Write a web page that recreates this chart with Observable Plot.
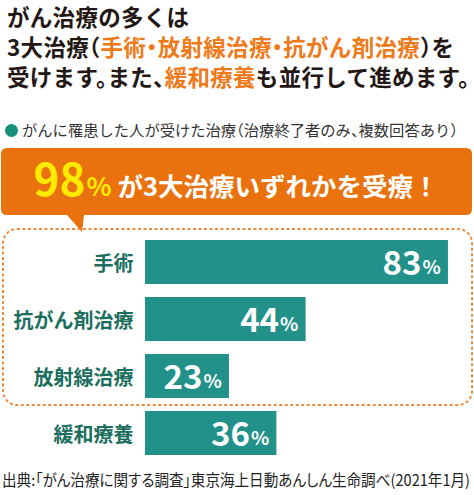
<!DOCTYPE html>
<html><head><meta charset="utf-8">
<script src="https://cdn.jsdelivr.net/npm/d3@7"></script>
<script src="https://cdn.jsdelivr.net/npm/@observablehq/plot@0.6"></script>
<style>
body{margin:0;background:#fff;}
#wrap{position:relative;width:474px;height:495px;overflow:hidden;font-family:"Noto Sans CJK JP",sans-serif;}
#title{position:absolute;left:7px;top:1px;font-size:22.5px;letter-spacing:0.3px;line-height:30px;font-weight:700;color:#231815;white-space:nowrap;font-feature-settings:"halt";}
#title .hl{color:#ee7a1a;}
#sub{position:absolute;left:5px;top:119px;font-size:15.3px;line-height:20px;color:#333;white-space:nowrap;font-feature-settings:"halt";}
#sub .dot{display:inline-block;width:13px;height:13px;border-radius:50%;background:#17907a;vertical-align:-1px;margin-right:4px;}
#deco{position:absolute;left:0;top:0;}
#chart{position:absolute;left:0;top:229px;}
#foot{position:absolute;left:2px;top:468px;font-size:15.5px;line-height:22px;color:#222;white-space:nowrap;font-feature-settings:"palt";transform-origin:0 0;}
</style></head>
<body>
<div id="wrap">
<svg id="deco" width="474" height="495">
  <path d="M7,148 H466 Q472,148 472,154 V209 Q472,215 466,215 H84 L82,232 L67,215 H7 Q1,215 1,209 V154 Q1,148 7,148 Z" fill="#e9720e"/>
  <rect x="3" y="229" width="469" height="176" rx="14" ry="14" fill="none" stroke="#f08a3c" stroke-width="2" stroke-dasharray="3 2.5"/>
  <text x="236" y="196" text-anchor="middle" font-family="Noto Sans CJK JP" font-weight="700"><tspan fill="#ffea00" font-size="44">98</tspan><tspan fill="#ffea00" font-size="26" dx="1">%</tspan><tspan fill="#fff" font-size="25.5" dx="6">が3大治療いずれかを受療！</tspan></text>
</svg>
<div id="title">がん治療の多くは<br>3大治療（<span class="hl">手術・放射線治療・抗がん剤治療</span>）を<br>受けます。また、<span class="hl">緩和療養</span>も並行して進めます。</div>
<div id="sub"><span class="dot"></span>がんに罹患した人が受けた治療（治療終了者のみ、複数回答あり）</div>
<div id="chart"></div>
<div id="foot">出典:「がん治療に関する調査」東京海上日動あんしん生命調べ(2021年1月)</div>
</div>
<script>
const categories = ["手術", "抗がん剤治療", "放射線治療", "緩和療養"];
const values = [83, 44, 23, 36];
const data = categories.map((c, i) => ({category: c, value: values[i]}));

const font = "Noto Sans CJK JP";
const plot = Plot.plot({
  width: 474,
  height: 240,
  margin: 0,
  style: {fontFamily: font, background: "transparent", overflow: "visible"},
  x: {domain: [0, 100], range: [145, 510], axis: null},
  y: {domain: categories, range: [4.7, 232.7], paddingInner: 0.22, paddingOuter: 0.11, axis: null},
  marks: [
    Plot.barX(data, {x: "value", y: "category", fill: "#21918a"}),
    Plot.text(data, {x: d => 0, y: "category", text: "category", textAnchor: "end", dx: -12, dy: 2,
      fill: "#1b6e5d", fontSize: 20, fontWeight: 700, fontFamily: font}),
    Plot.text(data, {x: "value", y: "category", text: d => String(d.value), textAnchor: "end", lineAnchor: "bottom",
      dx: -27, dy: 12, fill: "#fff", fontSize: 33, fontWeight: 700, fontFamily: font}),
    Plot.text(data, {x: "value", y: "category", text: d => "%", textAnchor: "start", lineAnchor: "bottom",
      dx: -26, dy: 11, fill: "#fff", fontSize: 19, fontWeight: 700, fontFamily: font})
  ]
});
document.getElementById("chart").appendChild(plot);

// fit the source line to the page width
const foot = document.getElementById("foot");
const fw = foot.getBoundingClientRect().width;
if (fw > 468) foot.style.transform = `scaleX(${468 / fw})`;
</script>
</body></html>
